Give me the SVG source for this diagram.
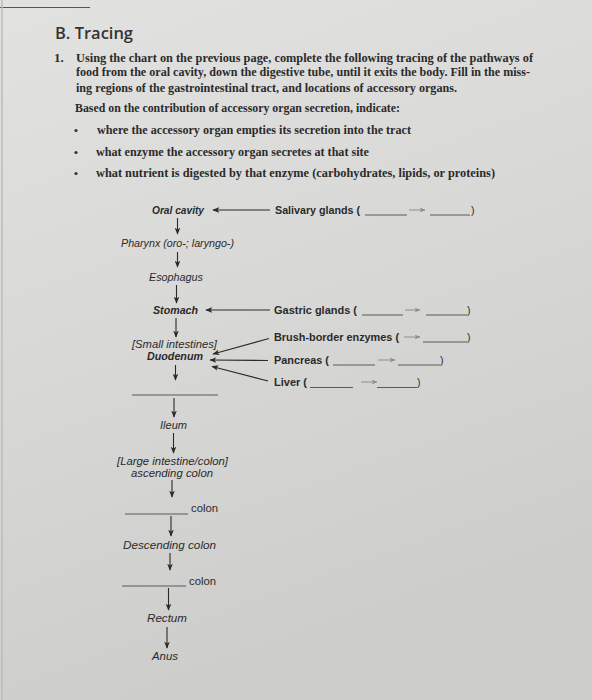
<svg xmlns="http://www.w3.org/2000/svg" width="592" height="700" viewBox="0 0 592 700">
<defs>
<linearGradient id="bg" x1="0" y1="0" x2="0.3" y2="1">
<stop offset="0" stop-color="#e2e2e0"/>
<stop offset="0.5" stop-color="#d8d8d6"/>
<stop offset="1" stop-color="#cdcdcb"/>
</linearGradient>
<marker id="ah" viewBox="0 0 10 8" refX="9" refY="4" markerWidth="7" markerHeight="5.6" markerUnits="userSpaceOnUse" orient="auto">
<path d="M0,0 L10,4 L0,8 L2.5,4 z" fill="#2a2a2a"/>
</marker>
<marker id="ahg" viewBox="0 0 10 8" refX="9" refY="4" markerWidth="6" markerHeight="4.8" markerUnits="userSpaceOnUse" orient="auto">
<path d="M0,0 L10,4 L0,8 L2.5,4 z" fill="#8e8e8e"/>
</marker>
<style>
.t{font-family:"Liberation Serif","Times New Roman",serif;font-weight:bold;font-size:13px;fill:#2b2b2b}
.h{font-family:"Open Sans","Liberation Sans",sans-serif;font-weight:600;font-size:17px;fill:#333}
.n{font-family:"Liberation Sans",Arial,sans-serif;font-size:10.5px;fill:#2a2a2a}
.i{font-style:italic}
.b{font-weight:bold}
.c{stroke:#2a2a2a;stroke-width:1.1;fill:none}
.bl{stroke:#3a3a3a;stroke-width:0.8}
.ga{stroke:#8e8e8e;stroke-width:1;marker-end:url(#ahg)}
</style>
</defs>
<rect width="592" height="700" fill="url(#bg)"/>
<line x1="0" y1="7.5" x2="90" y2="7.5" stroke="#555" stroke-width="1"/>
<line x1="2" y1="0" x2="2" y2="700" stroke="#bdbdbb" stroke-width="1.5"/>

<g id="header">
<text class="h" x="55" y="38.5" textLength="78" lengthAdjust="spacingAndGlyphs">B. Tracing</text>
<text class="t" x="54" y="61.5">1.</text>
<text class="t" x="76" y="61.5" textLength="457" lengthAdjust="spacingAndGlyphs">Using the chart on the previous page, complete the following tracing of the pathways of</text>
<text class="t" x="76" y="76" textLength="454" lengthAdjust="spacingAndGlyphs">food from the oral cavity, down the digestive tube, until it exits the body. Fill in the miss-</text>
<text class="t" x="76" y="91.5" textLength="381" lengthAdjust="spacingAndGlyphs">ing regions of the gastrointestinal tract, and locations of accessory organs.</text>
<text class="t" x="75" y="111.5" textLength="325" lengthAdjust="spacingAndGlyphs">Based on the contribution of accessory organ secretion, indicate:</text>
<circle cx="76" cy="130.5" r="1.6" fill="#333"/>
<text class="t" x="97" y="133.5" textLength="314" lengthAdjust="spacingAndGlyphs">where the accessory organ empties its secretion into the tract</text>
<circle cx="76" cy="152.5" r="1.6" fill="#333"/>
<text class="t" x="96" y="155.5" textLength="273" lengthAdjust="spacingAndGlyphs">what enzyme the accessory organ secretes at that site</text>
<circle cx="76" cy="173.5" r="1.6" fill="#333"/>
<text class="t" x="96" y="176.5" textLength="399" lengthAdjust="spacingAndGlyphs">what nutrient is digested by that enzyme (carbohydrates, lipids, or proteins)</text>
</g>

<g id="oral-cavity"><text class="n i b" x="152" y="213.5" textLength="52" lengthAdjust="spacingAndGlyphs">Oral cavity</text></g>
<g id="salivary-glands">
<text class="n b" x="275" y="213.5" textLength="85" lengthAdjust="spacingAndGlyphs">Salivary glands (</text>
<line class="bl" x1="365" y1="215" x2="407" y2="215"/>
<line class="ga" x1="409" y1="210" x2="425" y2="210"/>
<line class="bl" x1="430" y1="215" x2="470" y2="215"/>
<text class="n" x="471" y="213.5">)</text>
</g>
<g id="pharynx"><text class="n i" x="121" y="247" textLength="113" lengthAdjust="spacingAndGlyphs">Pharynx (oro-; laryngo-)</text></g>
<g id="esophagus"><text class="n i" x="149" y="281" textLength="54" lengthAdjust="spacingAndGlyphs">Esophagus</text></g>
<g id="stomach"><text class="n i b" x="153" y="313.5" textLength="45" lengthAdjust="spacingAndGlyphs">Stomach</text></g>
<g id="gastric-glands">
<text class="n b" x="274" y="313.5" textLength="83" lengthAdjust="spacingAndGlyphs">Gastric glands (</text>
<line class="bl" x1="362" y1="315" x2="403" y2="315"/>
<line class="ga" x1="405" y1="310" x2="420" y2="310"/>
<line class="bl" x1="426" y1="315" x2="467" y2="315"/>
<text class="n" x="467" y="313.5">)</text>
</g>
<g id="duodenum">
<text class="n i" x="132" y="347.5" textLength="85" lengthAdjust="spacingAndGlyphs">[Small intestines]</text>
<text class="n i b" x="147" y="360" textLength="56" lengthAdjust="spacingAndGlyphs">Duodenum</text>
</g>
<g id="brush-border">
<text class="n b" x="274" y="341" textLength="125" lengthAdjust="spacingAndGlyphs">Brush-border enzymes (</text>
<line class="ga" x1="404" y1="337" x2="420" y2="337"/>
<line class="bl" x1="423" y1="342" x2="467" y2="342"/>
<text class="n" x="467" y="341">)</text>
</g>
<g id="pancreas">
<text class="n b" x="274" y="363.5" textLength="55" lengthAdjust="spacingAndGlyphs">Pancreas (</text>
<line class="bl" x1="333" y1="365" x2="375" y2="365"/>
<line class="ga" x1="378" y1="360" x2="395" y2="360"/>
<line class="bl" x1="398" y1="365" x2="440" y2="365"/>
<text class="n" x="440" y="363.5">)</text>
</g>
<g id="liver">
<text class="n b" x="274" y="386" textLength="33" lengthAdjust="spacingAndGlyphs">Liver (</text>
<line class="bl" x1="310" y1="387.5" x2="353" y2="387.5"/>
<line class="ga" x1="361" y1="382" x2="377" y2="382"/>
<line class="bl" x1="377" y1="387.5" x2="417" y2="387.5"/>
<text class="n" x="417" y="386">)</text>
</g>
<g id="jejunum-blank"><line class="bl" x1="132" y1="395" x2="218" y2="395"/></g>
<g id="ileum"><text class="n i" x="160" y="429" textLength="27" lengthAdjust="spacingAndGlyphs">Ileum</text></g>
<g id="ascending-colon">
<text class="n i" x="117" y="465" textLength="111" lengthAdjust="spacingAndGlyphs">[Large intestine/colon]</text>
<text class="n i" x="131" y="477" textLength="82" lengthAdjust="spacingAndGlyphs">ascending colon</text>
</g>
<g id="transverse-colon">
<line class="bl" x1="125" y1="514" x2="188" y2="514"/>
<text class="n" x="191" y="512" textLength="27" lengthAdjust="spacingAndGlyphs">colon</text>
</g>
<g id="descending-colon"><text class="n i" x="123" y="548.5" textLength="93" lengthAdjust="spacingAndGlyphs">Descending colon</text></g>
<g id="sigmoid-colon">
<line class="bl" x1="122" y1="586" x2="186" y2="586"/>
<text class="n" x="189" y="585" textLength="27" lengthAdjust="spacingAndGlyphs">colon</text>
</g>
<g id="rectum"><text class="n i" x="147" y="622" textLength="40" lengthAdjust="spacingAndGlyphs">Rectum</text></g>
<g id="anus"><text class="n i" x="152" y="660" textLength="26" lengthAdjust="spacingAndGlyphs">Anus</text></g>

<g id="connectors" class="c">
<line x1="270" y1="210" x2="213" y2="210" marker-end="url(#ah)"/>
<line x1="270" y1="310" x2="206" y2="310" marker-end="url(#ah)"/>
<line x1="269" y1="338.5" x2="213" y2="354" marker-end="url(#ah)"/>
<line x1="268" y1="360.5" x2="210" y2="360" marker-end="url(#ah)"/>
<line x1="268" y1="381" x2="212" y2="366.5" marker-end="url(#ah)"/>
<line x1="177.5" y1="218" x2="177.5" y2="234" marker-end="url(#ah)"/>
<line x1="177.5" y1="252" x2="177.5" y2="267" marker-end="url(#ah)"/>
<line x1="176.5" y1="285" x2="176.5" y2="303" marker-end="url(#ah)"/>
<line x1="176" y1="318" x2="176" y2="337" marker-end="url(#ah)"/>
<line x1="175.5" y1="365" x2="175.5" y2="380" marker-end="url(#ah)"/>
<line x1="174" y1="398" x2="174" y2="417" marker-end="url(#ah)"/>
<line x1="173.5" y1="433" x2="173.5" y2="453" marker-end="url(#ah)"/>
<line x1="172" y1="480" x2="172" y2="497" marker-end="url(#ah)"/>
<line x1="171" y1="516" x2="171" y2="536" marker-end="url(#ah)"/>
<line x1="170" y1="553" x2="170" y2="570" marker-end="url(#ah)"/>
<line x1="168.5" y1="588" x2="168.5" y2="610" marker-end="url(#ah)"/>
<line x1="167" y1="627" x2="167" y2="648" marker-end="url(#ah)"/>
</g>
</svg>
